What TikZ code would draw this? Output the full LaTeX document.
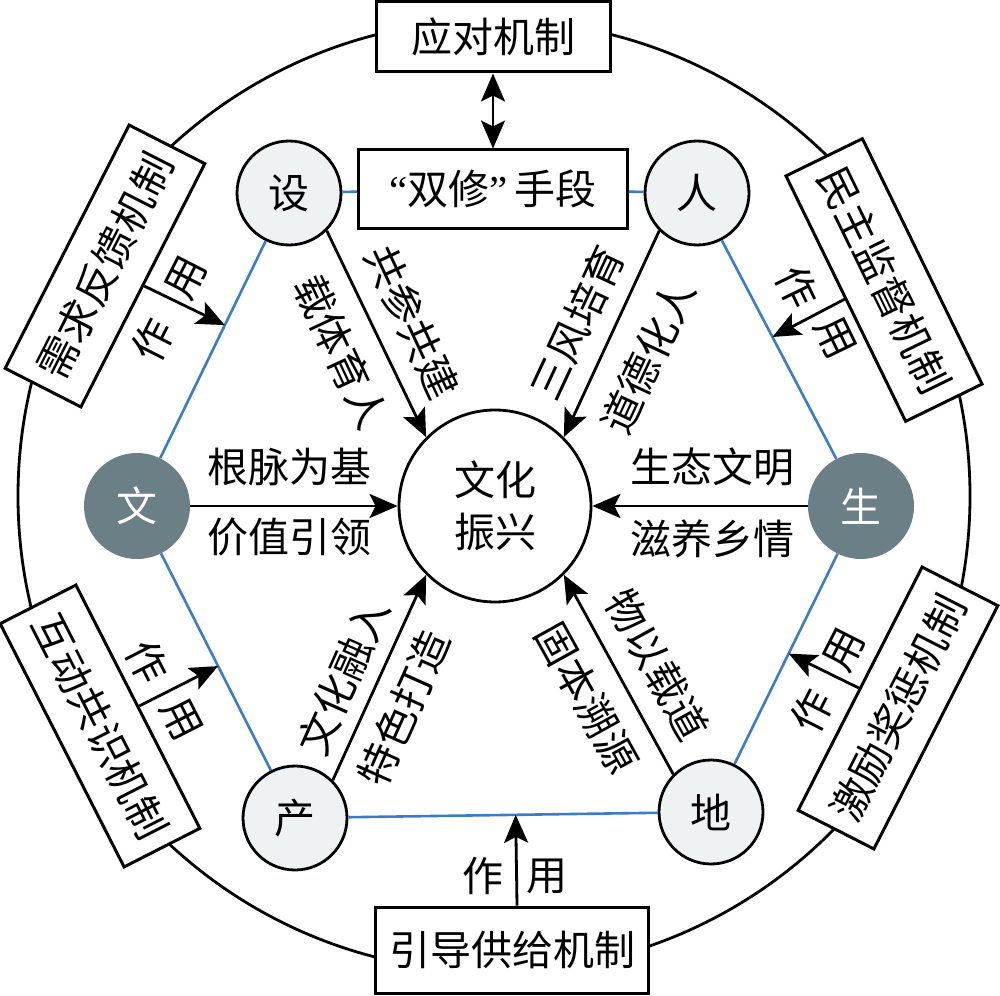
\documentclass[tikz,border=0pt]{standalone}
\usepackage{fontspec}
\setmainfont{Noto Sans CJK SC}
\newfontfamily\latinq{Liberation Serif}
\usetikzlibrary{arrows.meta,calc}
\definecolor{lightc}{RGB}{238,242,243}
\definecolor{darkc}{RGB}{107,127,135}
\definecolor{blueln}{RGB}{60,123,198}
\begin{document}
\begin{tikzpicture}[x=1pt,y=-1pt,
  font=\fontsize{41}{46}\selectfont,
  hub/.style={circle, draw, line width=2.8pt, fill=lightc, minimum size=104pt, inner sep=0pt},
  hubdark/.style={circle, fill=darkc, text=white, minimum size=106pt, inner sep=0pt},
  mech/.style={draw, line width=3pt, fill=white, minimum width=273pt, minimum height=85pt, inner sep=0pt},
  link/.style={blueln, line width=2.6pt},
  arr/.style={line width=2.8pt, -{Stealth[length=28pt,width=24pt,inset=6pt]}},
  darr/.style={line width=2.8pt, {Stealth[length=28pt,width=24pt,inset=6pt]}-{Stealth[length=28pt,width=24pt,inset=6pt]}},
  lab/.style={inner sep=0pt}]
\useasboundingbox (0,0) rectangle (1000,995);
% outer ring
\node[circle, draw, line width=2.8pt, minimum size=952pt, inner sep=0pt] (ring) at (494,496) {};
% mechanism boxes
\node[mech, minimum width=234pt, minimum height=70pt] (ydjz) at (493,37) {应对机制};
\node[mech, minimum width=269pt, minimum height=78pt] (sx) at (493,189) {{\latinq “}双修{\latinq ”}\,手段};
\node[mech, rotate=63] (xq) at (105,266) {需求反馈机制};
\node[mech, rotate=-64] (mz) at (884,280) {民主监督机制};
\node[mech, rotate=63] (jl) at (898,708) {激励奖惩机制};
\node[mech, rotate=-63] (hd) at (100,726) {互动共识机制};
\node[mech, minimum height=86pt] (yd) at (512,950) {引导供给机制};
% hubs
\node[hub] (she) at (289,193) {设};
\node[hub] (ren) at (697,193) {人};
\node[hubdark] (wen) at (137,506) {文};
\node[hubdark] (sheng) at (861,506) {生};
\node[hub] (chan) at (295,818) {产};
\node[hub] (di) at (711,812) {地};
\node[circle, draw, line width=2.8pt, minimum size=192pt, inner sep=0pt, align=center,
      font=\fontsize{41}{52}\selectfont] (core) at (495,506) {文化\\振兴};
% hexagon links
\draw[link] (she) -- (sx);
\draw[link] (sx) -- (ren);
\draw[link] (ren) -- (sheng);
\draw[link] (sheng) -- (di);
\draw[link] (di) -- (chan);
\draw[link] (chan) -- (wen);
\draw[link] (wen) -- (she);
% double arrow
\draw[darr] (ydjz) -- (sx);
% arrows to core
\draw[arr] (wen) -- (core);
\draw[arr] (sheng) -- (core);
\draw[arr] (she.-45) -- (core.135);
\draw[arr] (ren.-135) -- (core.45);
\draw[arr] (chan.45) -- (core.-135);
\draw[arr] (di.135) -- (core.-45);
% action arrows from mechanisms
\draw[arr] (xq.south) -- ($(she)!(xq.south)!(wen)$);
\draw[arr] (mz.south) -- ($(ren)!(mz.south)!(sheng)$);
\draw[arr] (jl.north) -- ($(sheng)!(jl.north)!(di)$);
\draw[arr] (hd.north) -- ($(wen)!(hd.north)!(chan)$);
\draw[arr] ([xshift=5pt]yd.north) -- ($(chan)!([xshift=5pt]yd.north)!(di)$);
% 作用 labels
\node[lab, rotate=63] (xq1) at (153,340) {作};
\node[lab, rotate=63] (xq2) at (186,278) {用};
\node[lab, rotate=-64] (mz1) at (797,287) {作};
\node[lab, rotate=-64] (mz2) at (835,338) {用};
\node[lab, rotate=63] (jl1) at (812,711) {作};
\node[lab, rotate=63] (jl2) at (844,650) {用};
\node[lab, rotate=-63] (hd1) at (148,662) {作};
\node[lab, rotate=-63] (hd2) at (181,719) {用};
\node[lab] (yd1) at (483,876) {作};
\node[lab] (yd2) at (547,876) {用};
% inner labels
\node[lab, rotate=-65] (l1) at (412,322) {共参共建};
\node[lab, rotate=-65] (l2) at (341,352) {载体育人};
\node[lab, rotate=65] (l3) at (577,323) {三风培育};
\node[lab, rotate=65] (l4) at (648,357) {道德化人};
\node[lab] (l5) at (289,467) {根脉为基};
\node[lab] (l6) at (289,537) {价值引领};
\node[lab] (l7) at (712,467) {生态文明};
\node[lab] (l8) at (712,539) {滋养乡情};
\node[lab, rotate=66] (l9) at (343,677) {文化融入};
\node[lab, rotate=66] (l10) at (404,708) {特色打造};
\node[lab, rotate=-61] (l11) at (657,665) {物以载道};
\node[lab, rotate=-61] (l12) at (587,698) {固本溯源};
\end{tikzpicture}
\end{document}
